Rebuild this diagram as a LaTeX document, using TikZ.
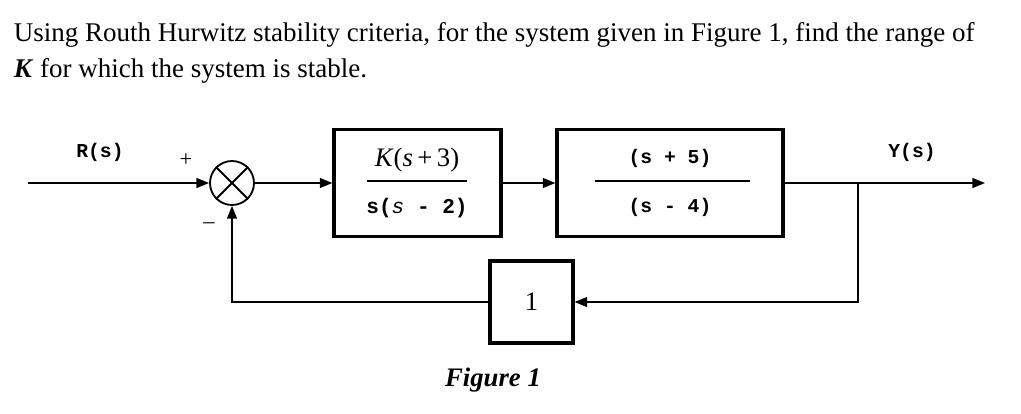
\documentclass[tikz,border=0pt]{standalone}
\usepackage{fontspec}
\setmainfont{Liberation Serif}
\setmonofont{Liberation Mono}
\usetikzlibrary{arrows.meta}
\begin{document}
\begin{tikzpicture}[x=0.025cm,y=-0.025cm,
  blk/.style={draw,line width=2.2pt},
  sig/.style={line width=1.3pt,-{Triangle[length=9pt,width=7pt]}},
  ln/.style={line width=1.3pt},
  mono/.style={font=\fontsize{14}{16}\selectfont\ttfamily\bfseries}]
\useasboundingbox (0,0) rectangle (1021,414);
\node[anchor=base west,font=\fontsize{19.2}{22}\selectfont] (t1) at (9,42) {Using Routh Hurwitz stability criteria, for the system given in Figure 1, find the range of};
\node[anchor=base west,font=\fontsize{19.2}{22}\selectfont] (t2) at (9,77) {\textbf{\textit{K}} for which the system is stable.};
\coordinate (in) at (28,183);
\node[draw,circle,line width=1.3pt,minimum size=44pt*0.711,inner sep=0] (sum) at (232,183) {};
\draw[line width=1.3pt] (sum.north west)--(sum.south east) (sum.north east)--(sum.south west);
\node[blk,minimum width=167*0.711pt,minimum height=107*0.711pt] (b1) at (417.5,183) {};
\node[blk,minimum width=226*0.711pt,minimum height=107*0.711pt] (b2) at (670,183) {};
\node[blk,minimum width=83*0.711pt,minimum height=82*0.711pt,font=\fontsize{19}{22}\selectfont] (b3) at (531.5,302) {1};
\draw[ln] (367,181)--(467,181);
\node[font=\fontsize{19}{22}\selectfont] (n1) at (417,160) {\textit{K}(\textit{s}\,+\,3)};
\node[mono,font=\fontsize{15}{17}\selectfont\ttfamily\bfseries] (d1) at (417,208) {s(\textmd{\textit{s}} - 2)};
\draw[ln] (595,181)--(750,181);
\node[mono] (n2) at (670,158) {(s + 5)};
\node[mono] (d2) at (670,207) {(s - 4)};
\node[mono] (rs) at (100,152) {R(s)};
\node[mono] (ys) at (912,152) {Y(s)};
\node[font=\fontsize{16}{18}\selectfont] (plus) at (186,160) {+};
\node[font=\fontsize{16}{18}\selectfont] (minus) at (209,226) {--};
\coordinate (out) at (985,183);
\coordinate (tap) at (858,183);
\draw[sig] (in)--(sum.west);
\draw[sig] (sum.east)--(b1.west);
\draw[sig] (b1.east)--(b2.west);
\draw[sig] (b2.east)--(out);
\draw[sig] (tap)|-(b3.east);
\draw[sig] (b3.west)-|(sum.south);
\node[font=\fontsize{19}{22}\selectfont\bfseries\itshape] (fig) at (493,380) {Figure 1};
\end{tikzpicture}
\end{document}
